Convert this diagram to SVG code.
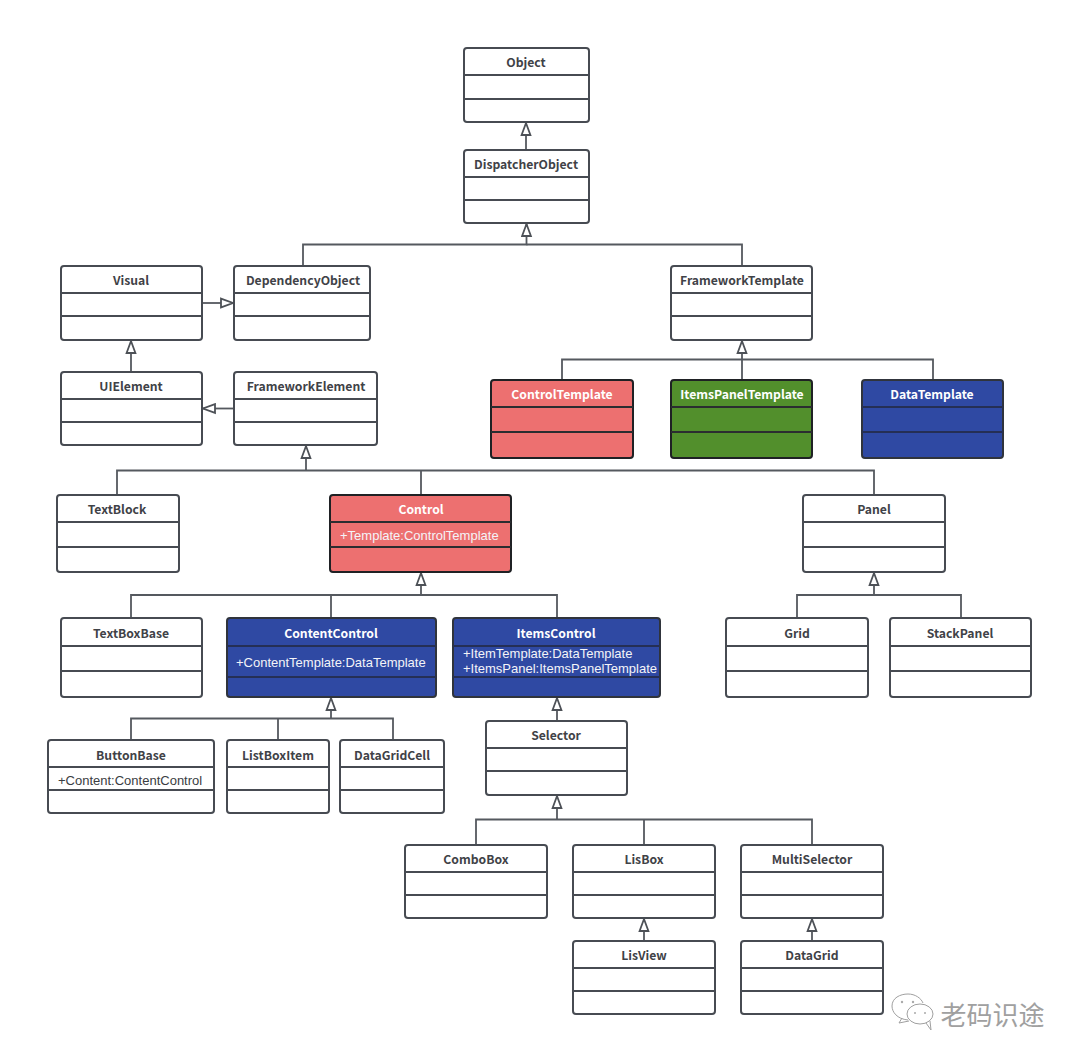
<svg xmlns="http://www.w3.org/2000/svg" width="1080" height="1063" viewBox="0 0 1080 1063">
<style>
text{font-family:"Noto Sans CJK SC","Noto Sans",sans-serif;text-anchor:middle}
.t{font-size:12.200px;font-weight:700;fill:#3f4247}
.m{font-family:"Liberation Sans",sans-serif;font-size:13px;fill:#3a3d42;text-anchor:start}
.box{fill:#fff;stroke:#474b52;stroke-width:2}
.line{stroke:#474b52;stroke-width:2;fill:none}
.red .box{fill:#ed7070;stroke:#1f2124}.red .line{stroke:#2b2d30}
.grn .box{fill:#528f2c;stroke:#1f2124}.grn .line{stroke:#2b2d30}
.blu .box{fill:#2f49a3;stroke:#30343c}.blu .line{stroke:#252f55}
.red text,.grn text,.blu text{fill:#fff}
.red .m,.blu .m{fill:#f4f4f8}
.c{stroke:#55595f;stroke-width:1.800;fill:none}
.a{fill:#fff;stroke:#4d5157;stroke-width:1.800}
.wm{fill:none;stroke:#a0a0a0;stroke-width:1}
</style>
<defs>
<marker id="tri" markerUnits="userSpaceOnUse" markerWidth="16" markerHeight="12" refX="13" refY="6" orient="auto"><path class="a" d="M1 1.600L13 6L1 10.400Z"/></marker>
</defs>
<g id="connectors">
<path class="c" marker-end="url(#tri)" d="M526 150V123"/>
<path class="c" marker-end="url(#tri)" d="M303 266V244.500H526.500V224"/>
<path class="c" d="M742 266V244.500H526.500"/>
<path class="c" marker-end="url(#tri)" d="M202 303H233"/>
<path class="c" marker-end="url(#tri)" d="M131 372V341"/>
<path class="c" marker-end="url(#tri)" d="M234 408.500H203"/>
<path class="c" marker-end="url(#tri)" d="M742 380V341"/>
<path class="c" d="M562 380V359.500H933V380"/>
<path class="c" marker-end="url(#tri)" d="M306 471V446"/>
<path class="c" d="M117 495V470.500H874V495M421 470.500V495"/>
<path class="c" marker-end="url(#tri)" d="M421 595V573"/>
<path class="c" d="M131 618V595H557V618M331 595V618"/>
<path class="c" marker-end="url(#tri)" d="M874 595V573"/>
<path class="c" d="M797 618V595H961V618"/>
<path class="c" marker-end="url(#tri)" d="M331 718V698"/>
<path class="c" d="M131 740V718.500H393V740M278 718.500V740"/>
<path class="c" marker-end="url(#tri)" d="M557 721V698"/>
<path class="c" marker-end="url(#tri)" d="M557 819V796"/>
<path class="c" d="M476 845V819.500H812V845M644 819.500V845"/>
<path class="c" marker-end="url(#tri)" d="M644 941V919"/>
<path class="c" marker-end="url(#tri)" d="M812 941V919"/>
</g>
<g id="Object"><rect class="box" x="464" y="48" width="125" height="74" rx="3"/><path class="line" d="M464 75H589M464 99H589"/><text class="t" x="526" y="67">Object</text></g>
<g id="DispatcherObject"><rect class="box" x="464" y="150" width="125" height="73" rx="3"/><path class="line" d="M464 177H589M464 200H589"/><text class="t" x="526" y="169">DispatcherObject</text></g>
<g id="Visual"><rect class="box" x="61" y="266" width="141" height="74" rx="3"/><path class="line" d="M61 293H202M61 316H202"/><text class="t" x="131" y="285">Visual</text></g>
<g id="DependencyObject"><rect class="box" x="234" y="266" width="136" height="74" rx="3"/><path class="line" d="M234 293H370M234 316H370"/><text class="t" x="303" y="285">DependencyObject</text></g>
<g id="FrameworkTemplate"><rect class="box" x="671" y="266" width="141" height="74" rx="3"/><path class="line" d="M671 293H812M671 316H812"/><text class="t" x="742" y="285">FrameworkTemplate</text></g>
<g id="UIElement"><rect class="box" x="61" y="372" width="141" height="73" rx="3"/><path class="line" d="M61 399H202M61 422H202"/><text class="t" x="131" y="391">UIElement</text></g>
<g id="FrameworkElement"><rect class="box" x="234" y="372" width="143" height="73" rx="3"/><path class="line" d="M234 399H377M234 422H377"/><text class="t" x="306" y="391">FrameworkElement</text></g>
<g id="ControlTemplate" class="red"><rect class="box" x="491" y="380" width="142" height="78" rx="3"/><path class="line" d="M491 407H633M491 432H633"/><text class="t" x="562" y="399">ControlTemplate</text></g>
<g id="ItemsPanelTemplate" class="grn"><rect class="box" x="671" y="380" width="141" height="78" rx="3"/><path class="line" d="M671 407H812M671 432H812"/><text class="t" x="742" y="399">ItemsPanelTemplate</text></g>
<g id="DataTemplate" class="blu"><rect class="box" x="862" y="380" width="141" height="78" rx="3"/><path class="line" d="M862 407H1003M862 432H1003"/><text class="t" x="932" y="399">DataTemplate</text></g>
<g id="TextBlock"><rect class="box" x="57" y="495" width="122" height="77" rx="3"/><path class="line" d="M57 522H179M57 547H179"/><text class="t" x="117" y="514">TextBlock</text></g>
<g id="Control" class="red"><rect class="box" x="330" y="495" width="181" height="77" rx="3"/><path class="line" d="M330 522H511M330 547H511"/><text class="t" x="421" y="514">Control</text><text class="m" x="340" y="540">+Template:ControlTemplate</text></g>
<g id="Panel"><rect class="box" x="803" y="495" width="142" height="77" rx="3"/><path class="line" d="M803 522H945M803 547H945"/><text class="t" x="874" y="514">Panel</text></g>
<g id="TextBoxBase"><rect class="box" x="61" y="618" width="141" height="79" rx="3"/><path class="line" d="M61 646H202M61 671H202"/><text class="t" x="131" y="638">TextBoxBase</text></g>
<g id="ContentControl" class="blu"><rect class="box" x="227" y="618" width="209" height="79" rx="3"/><path class="line" d="M227 646H436M227 677H436"/><text class="t" x="331" y="638">ContentControl</text><text class="m" x="236" y="667">+ContentTemplate:DataTemplate</text></g>
<g id="ItemsControl" class="blu"><rect class="box" x="453" y="618" width="207" height="79" rx="3"/><path class="line" d="M453 646H660M453 677H660"/><text class="t" x="556" y="638">ItemsControl</text><text class="m" x="463" y="658">+ItemTemplate:DataTemplate</text><text class="m" x="463" y="673">+ItemsPanel:ItemsPanelTemplate</text></g>
<g id="Grid"><rect class="box" x="726" y="618" width="142" height="79" rx="3"/><path class="line" d="M726 646H868M726 671H868"/><text class="t" x="797" y="638">Grid</text></g>
<g id="StackPanel"><rect class="box" x="890" y="618" width="141" height="79" rx="3"/><path class="line" d="M890 646H1031M890 671H1031"/><text class="t" x="960" y="638">StackPanel</text></g>
<g id="ButtonBase"><rect class="box" x="48" y="740" width="166" height="73" rx="3"/><path class="line" d="M48 767H214M48 790H214"/><text class="t" x="131" y="760">ButtonBase</text><text class="m" x="58" y="785">+Content:ContentControl</text></g>
<g id="ListBoxItem"><rect class="box" x="227" y="740" width="102" height="73" rx="3"/><path class="line" d="M227 767H329M227 790H329"/><text class="t" x="278" y="760">ListBoxItem</text></g>
<g id="DataGridCell"><rect class="box" x="340" y="740" width="104" height="73" rx="3"/><path class="line" d="M340 767H444M340 790H444"/><text class="t" x="392" y="760">DataGridCell</text></g>
<g id="Selector"><rect class="box" x="486" y="721" width="141" height="74" rx="3"/><path class="line" d="M486 748H627M486 771H627"/><text class="t" x="556" y="740">Selector</text></g>
<g id="ComboBox"><rect class="box" x="405" y="845" width="142" height="73" rx="3"/><path class="line" d="M405 872H547M405 895H547"/><text class="t" x="476" y="864">ComboBox</text></g>
<g id="LisBox"><rect class="box" x="573" y="845" width="142" height="73" rx="3"/><path class="line" d="M573 872H715M573 895H715"/><text class="t" x="644" y="864">LisBox</text></g>
<g id="MultiSelector"><rect class="box" x="741" y="845" width="142" height="73" rx="3"/><path class="line" d="M741 872H883M741 895H883"/><text class="t" x="812" y="864">MultiSelector</text></g>
<g id="LisView"><rect class="box" x="573" y="941" width="142" height="73" rx="3"/><path class="line" d="M573 968H715M573 991H715"/><text class="t" x="644" y="960">LisView</text></g>
<g id="DataGrid"><rect class="box" x="741" y="941" width="142" height="73" rx="3"/><path class="line" d="M741 968H883M741 991H883"/><text class="t" x="812" y="960">DataGrid</text></g>
<g id="watermark">
<path class="wm" d="M908 1020C897 1019 892 1012 892 1006C892 998 900 994 908 994C915 994 921 998 923 1003"/>
<path class="wm" d="M909 1021L899 1023L902 1018"/>
<ellipse class="wm" cx="920" cy="1014" rx="13" ry="10"/>
<path class="wm" d="M926 1023L931 1030L930 1021"/>
<g fill="#aaa"><circle cx="902" cy="1002" r="1.200"/><circle cx="913" cy="1002" r="1.200"/><circle cx="915" cy="1013" r="1"/><circle cx="925" cy="1013" r="1"/></g>
<text x="992.500" y="1025" font-size="26" fill="#a0a0a0">老码识途</text>
</g>
</svg>
